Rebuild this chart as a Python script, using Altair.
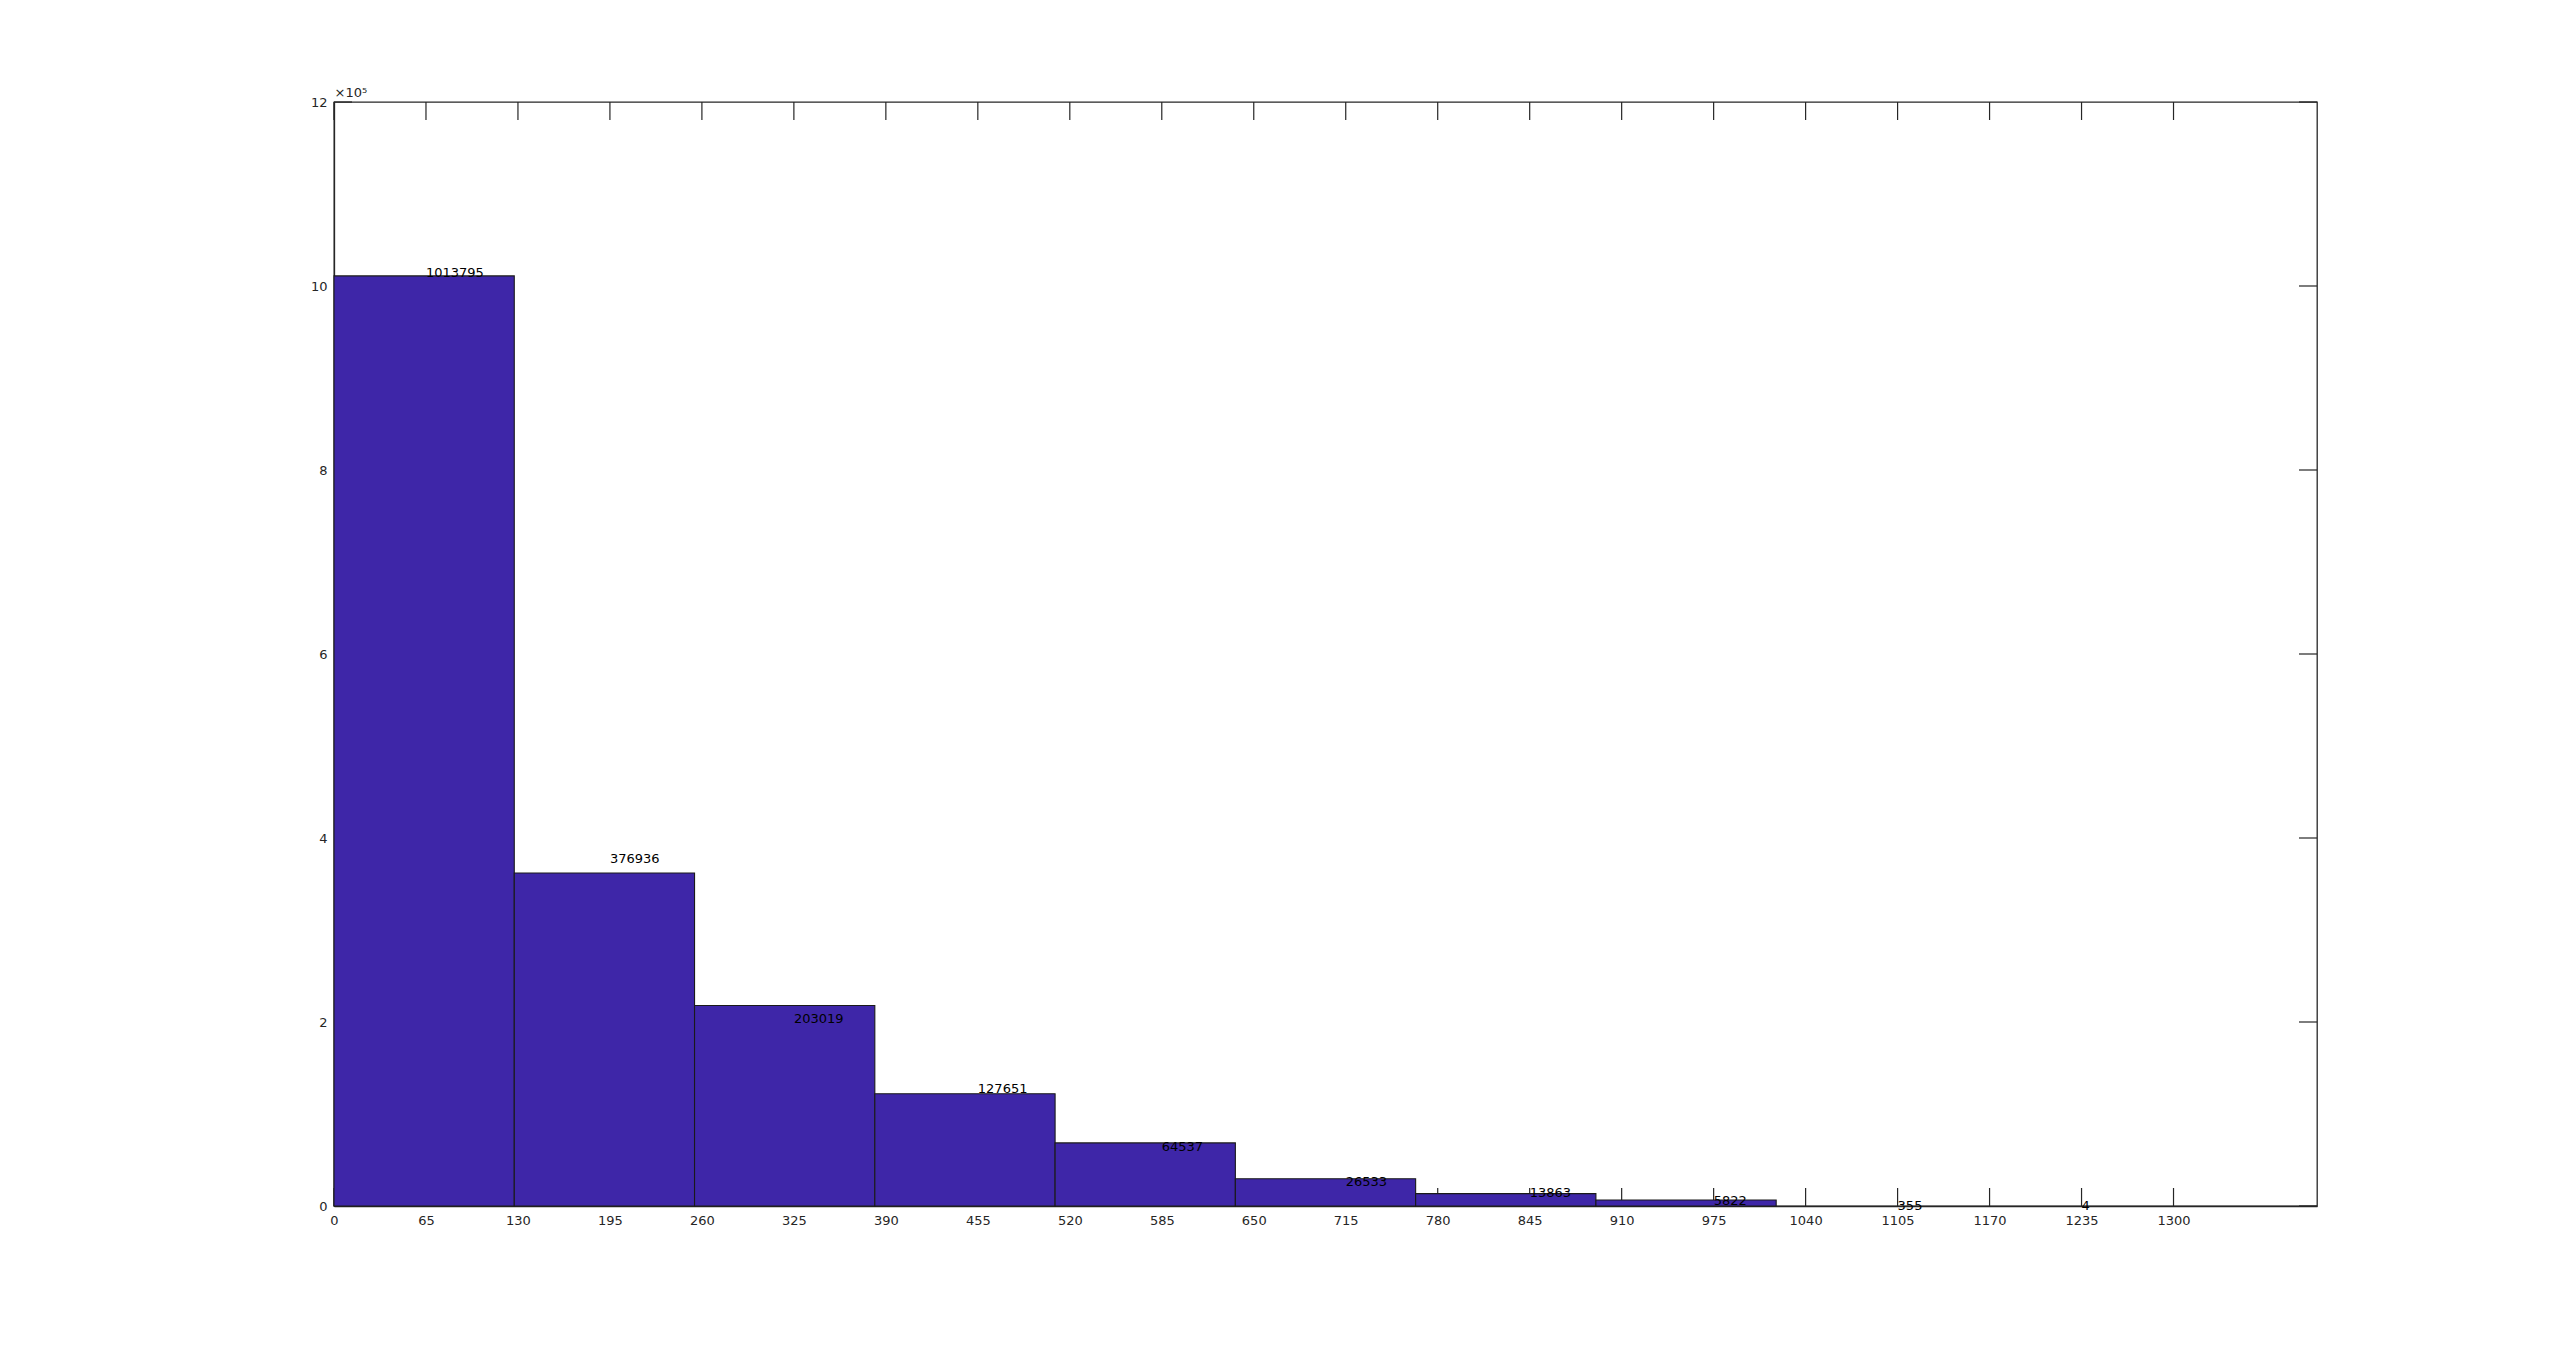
import altair as alt
import pandas as pd

# ---- data ----
bin_starts = [0, 127.4, 254.8, 382.2, 509.6, 637.0, 764.4, 891.8, 1019.2, 1146.6, 1274.0]
bin_ends = [127.4, 254.8, 382.2, 509.6, 637.0, 764.4, 891.8, 1019.2, 1146.6, 1274.0, 1401.4]
bar_counts = [1011000, 362000, 218000, 122000, 68600, 29700, 13400, 6500, 0, 0, 0]

label_x = [65, 195, 325, 455, 585, 715, 845, 975, 1105, 1235]
label_counts = [1013795, 376936, 203019, 127651, 64537, 26533, 13863, 5822, 355, 4]

x_ticks = [0, 65, 130, 195, 260, 325, 390, 455, 520, 585, 650, 715, 780, 845,
           910, 975, 1040, 1105, 1170, 1235, 1300]
y_ticks = [0, 200000, 400000, 600000, 800000, 1000000, 1200000]

X_MAX = 1401.4
Y_MAX = 1200000

W, H = 1983, 1104
TICK = 18
FRAME = "#262626"
BAR = "#3E26A8"

bars_df = pd.DataFrame({"x0": bin_starts, "x1": bin_ends, "count": bar_counts})
bars_df = bars_df[bars_df["count"] > 0]
labels_df = pd.DataFrame({"x": label_x, "count": label_counts,
                          "text": [str(v) for v in label_counts]})
xt_df = pd.DataFrame({"x": x_ticks})
yt_df = pd.DataFrame({"y": y_ticks})

xscale = alt.Scale(domain=[0, X_MAX], nice=False, zero=False)
yscale = alt.Scale(domain=[0, Y_MAX], nice=False)

xaxis = alt.Axis(values=x_ticks, format="d", ticks=False, tickSize=0, grid=False, labelPadding=8,
                 labelFont="DejaVu Sans", labelFontSize=13, labelColor=FRAME,
                 domainColor=FRAME, domainWidth=1.3, title=None, labelFlush=False,
                 labelOverlap=False)
yaxis = alt.Axis(values=y_ticks, ticks=False, tickSize=0, grid=False, labelPadding=7,
                 labelFont="DejaVu Sans", labelFontSize=13, labelColor=FRAME,
                 labelExpr="format(datum.value / 100000, 'd')",
                 domainColor=FRAME, domainWidth=1.3,
                 title="×10⁵", titleAngle=0, titleX=0, titleY=-6,
                 titleAlign="left", titleBaseline="alphabetic",
                 titleFont="DejaVu Sans", titleFontSize=13,
                 titleFontWeight="normal", titleColor=FRAME,
                 labelFlush=False, labelOverlap=False)

# inward ticks (drawn beneath bars, as in the reference)
top_ticks = alt.Chart(xt_df).mark_rule(color=FRAME, strokeWidth=1.2).encode(
    x=alt.X("x:Q", scale=xscale, axis=xaxis),
    y=alt.value(0), y2=alt.value(TICK))
bottom_ticks = alt.Chart(xt_df).mark_rule(color=FRAME, strokeWidth=1.2).encode(
    x=alt.X("x:Q", scale=xscale, axis=xaxis),
    y=alt.value(H - TICK), y2=alt.value(H))
left_ticks = alt.Chart(yt_df).mark_rule(color=FRAME, strokeWidth=1.2).encode(
    y=alt.Y("y:Q", scale=yscale, axis=yaxis),
    x=alt.value(0), x2=alt.value(TICK))
right_ticks = alt.Chart(yt_df).mark_rule(color=FRAME, strokeWidth=1.2).encode(
    y=alt.Y("y:Q", scale=yscale, axis=yaxis),
    x=alt.value(W - TICK), x2=alt.value(W))

bars = alt.Chart(bars_df).mark_rect(fill=BAR, stroke="#1a1a1a", strokeWidth=1.1).encode(
    x=alt.X("x0:Q", scale=xscale, axis=xaxis),
    x2="x1:Q",
    y=alt.Y("count:Q", scale=yscale, axis=yaxis),
    y2=alt.datum(0),
)

texts = alt.Chart(labels_df).mark_text(
    align="left", baseline="middle", font="DejaVu Sans", fontSize=13, color="#000000"
).encode(
    x=alt.X("x:Q", scale=xscale, axis=xaxis),
    y=alt.Y("count:Q", scale=yscale, axis=yaxis),
    text="text:N",
)

chart = alt.layer(top_ticks, bottom_ticks, left_ticks, right_ticks, bars, texts).properties(
    width=W, height=H,
    autosize=alt.AutoSizeParams(type="none"),
    padding={"left": 326, "top": 94, "right": 220, "bottom": 120},
    background="white",
).configure_view(stroke=FRAME, strokeWidth=1.3)

chart.save("out.html", embed_options={"renderer": "svg", "actions": False})
